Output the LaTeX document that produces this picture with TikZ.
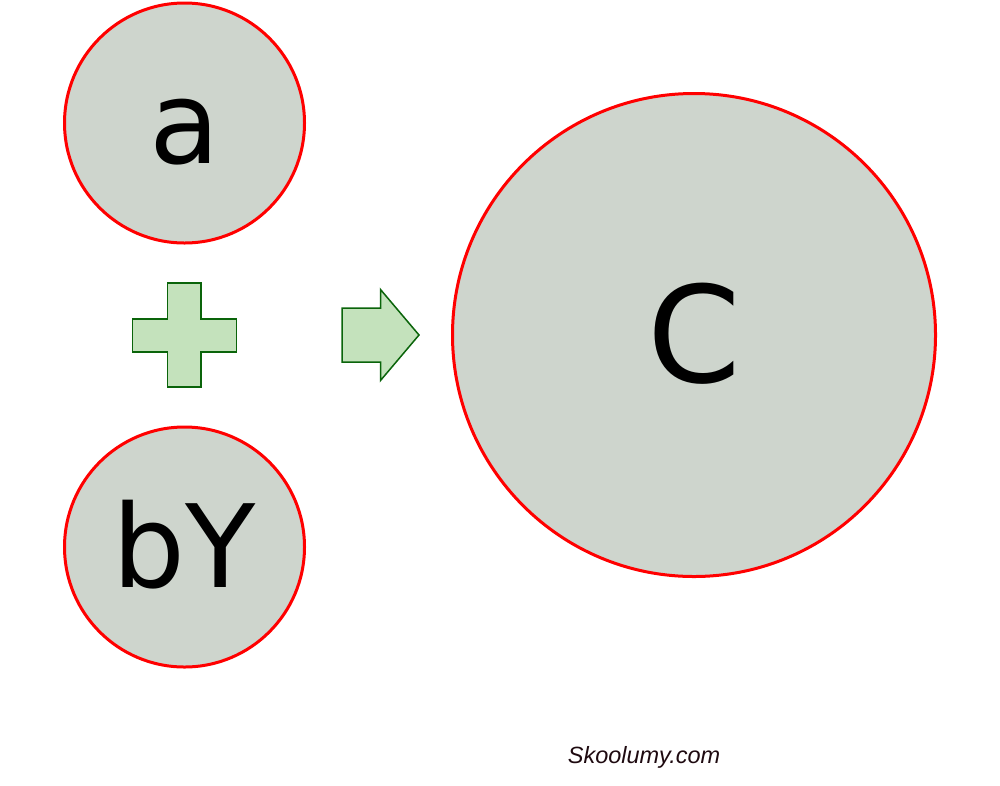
\documentclass[tikz,border=0pt]{standalone}
\usepackage{fontspec}
\setmainfont{DejaVu Sans}
\newfontfamily\webfont{Liberation Sans}
\usetikzlibrary{positioning}
\definecolor{ballgrey}{RGB}{206,213,205}
\definecolor{signgreen}{RGB}{196,226,188}
\definecolor{signline}{RGB}{10,100,10}
\definecolor{markink}{RGB}{30,10,16}

\begin{document}
\begin{tikzpicture}[x=1pt,y=-1pt,
            ball/.style={circle, draw=red, line width=3pt, fill=ballgrey, inner sep=0pt, text depth=0pt},
            small ball/.style={ball, minimum size=240pt, text height=81pt, font=\fontsize{115}{115}\selectfont},
            sign/.style={draw=signline, fill=signgreen, line width=1.5pt, line join=miter}]
            \useasboundingbox (0,0) rectangle (1000,785);
            \node [small ball] (a) at (184.5,123) {a};
            \node [small ball] (bY) at (184.5,547) {bY};
            \node [ball, minimum size=483pt, text height=94pt, font=\fontsize{134}{134}\selectfont] (c) at (694,335) {C};
            \node [font=\webfont\itshape\fontsize{23.5}{23.5}\selectfont, text=markink] (site) at (644,757) {Skoolumy.com};
            % plus sign
            \draw [sign] (167.5,283) -- (201,283) -- (201,319) -- (236.5,319) -- (236.5,352)
            	-- (201,352) -- (201,387) -- (167.5,387) -- (167.5,352) -- (132.5,352)
            	-- (132.5,319) -- (167.5,319) -- cycle;
            % arrow
            \draw [sign] (342,308) -- (380.5,308) -- (380.5,289.5) -- (419,335) -- (380.5,380.5)
            	-- (380.5,362) -- (342,362) -- cycle;
\end{tikzpicture}
\end{document}
